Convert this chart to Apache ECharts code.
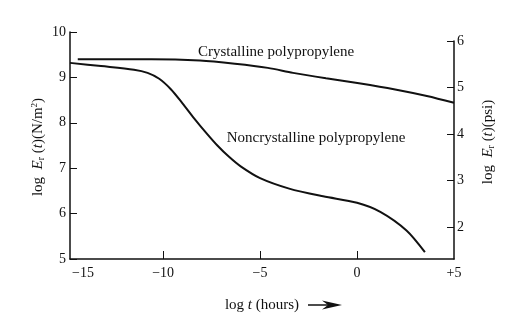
<!DOCTYPE html>
<html><head><meta charset="utf-8">
<script src="https://cdn.jsdelivr.net/npm/echarts@6/dist/echarts.min.js"></script>
<style>html,body{margin:0;padding:0;background:#fff}#c{width:526px;height:319px}</style>
</head><body><div id="c"></div>
<script>
// x: log t (hours); y: log Er(t) (N/m^2)
const crysX = [-14.4, -12.5, -10.6, -8.1, -6.3, -4.6, -3.3, -1.6, 0.1, 1.9, 3.6, 5.0];
const crysY = [9.40, 9.40, 9.40, 9.37, 9.30, 9.21, 9.10, 8.98, 8.87, 8.74, 8.59, 8.44];
const nonX = [-14.8, -13.2, -11.5, -10.8, -10.2, -9.6, -9.0, -8.4, -7.8, -7.2, -6.6, -6.0, -5.0, -3.5, -1.75, 0.0, 1.2, 2.55, 3.5];
const nonY = [9.32, 9.25, 9.17, 9.10, 8.97, 8.74, 8.43, 8.10, 7.79, 7.50, 7.25, 7.04, 6.78, 6.55, 6.38, 6.24, 6.04, 5.63, 5.15];
const xTickValues = [-14.8, -10, -5, 0, 5];
const xTickLabels = ['\u221215', '\u221210', '\u22125', '0', '+5'];
const leftTicks = [5, 6, 7, 8, 9, 10];
const rightTicks = [2, 3, 4, 5, 6];
const seriesNames = ['Crystalline polypropylene', 'Noncrystalline polypropylene'];

const F = 'Liberation Serif, Times New Roman, serif';
const C = '#111';
const chart = echarts.init(document.getElementById('c'), null, {renderer: 'canvas'});
const pair = (xs, ys) => xs.map((x, i) => [x, ys[i]]);
chart.setOption({
  animation: false,
  grid: [
    {left: 70, right: 72, top: 32, bottom: 60},
    {left: 70, right: 72, top: 41, bottom: 60}
  ],
  xAxis: [
    {type: 'value', gridIndex: 0, min: -14.8, max: 5,
     axisLine: {show: true, onZero: false, lineStyle: {color: C, width: 1.5}},
     splitLine: {show: false},
     axisTick: {show: true, inside: true, length: 8, lineStyle: {color: C}, customValues: [-10, -5, 0]},
     axisLabel: {customValues: xTickValues, color: C, fontFamily: F, fontSize: 14, margin: 7,
       formatter: v => {
         const i = xTickValues.findIndex(t => Math.abs(t - v) < 1e-6);
         const s = i >= 0 ? xTickLabels[i] : '';
         return i === 0 ? '{a|' + s + '}' : s;
       },
       rich: {a: {fontFamily: F, fontSize: 14, color: C, padding: [0, 0, 0, 26]}}}
    },
    {type: 'value', gridIndex: 1, min: -14.8, max: 5, show: false}
  ],
  yAxis: [
    {type: 'value', gridIndex: 0, min: 5, max: 10, interval: 1, position: 'left',
     axisLine: {show: true, onZero: false, lineStyle: {color: C, width: 1.5}},
     splitLine: {show: false},
     axisTick: {show: true, inside: true, length: 7, lineStyle: {color: C}, customValues: leftTicks},
     axisLabel: {customValues: leftTicks, color: C, fontFamily: F, fontSize: 14, margin: 4}
    },
    {type: 'value', gridIndex: 1, min: 1.32, max: 6, position: 'right',
     axisLine: {show: true, onZero: false, lineStyle: {color: C, width: 1.5}},
     splitLine: {show: false},
     axisTick: {show: true, inside: true, length: 7, lineStyle: {color: C}, customValues: rightTicks},
     axisLabel: {customValues: rightTicks, color: C, fontFamily: F, fontSize: 14, margin: 3}
    }
  ],
  series: [
    {name: seriesNames[0], type: 'line', xAxisIndex: 0, yAxisIndex: 0, data: pair(crysX, crysY),
     smooth: 0.3, showSymbol: false, lineStyle: {color: C, width: 2}},
    {name: seriesNames[1], type: 'line', xAxisIndex: 0, yAxisIndex: 0, data: pair(nonX, nonY),
     smooth: 0.3, showSymbol: false, lineStyle: {color: C, width: 2}}
  ],
  graphic: [
    {type: 'text', x: 276, y: 52, style: {text: seriesNames[0], font: '15px ' + F, fill: C, align: 'center', verticalAlign: 'middle'}},
    {type: 'text', x: 316, y: 138, style: {text: seriesNames[1], font: '15px ' + F, fill: C, align: 'center', verticalAlign: 'middle'}},
    {type: 'text', x: 38, y: 147, rotation: Math.PI / 2,
     style: {text: 'log  {i|E}{s|r} ({i|t})(N/m{p|2})', align: 'center', verticalAlign: 'middle', fill: C,
       font: '15px ' + F,
       rich: {i: {fontFamily: F, fontSize: 15, fontStyle: 'italic', fill: C},
              s: {fontFamily: F, fontSize: 10, fill: C, verticalAlign: 'bottom', padding: [6, 0, 0, 0]},
              p: {fontFamily: F, fontSize: 9, fill: C, verticalAlign: 'top', padding: [0, 0, 6, 0]}}}},
    {type: 'text', x: 488, y: 142, rotation: Math.PI / 2,
     style: {text: 'log  {i|E}{s|r} ({i|t})(psi)', align: 'center', verticalAlign: 'middle', fill: C,
       font: '15px ' + F,
       rich: {i: {fontFamily: F, fontSize: 15, fontStyle: 'italic', fill: C},
              s: {fontFamily: F, fontSize: 10, fill: C, verticalAlign: 'bottom', padding: [6, 0, 0, 0]}}}},
    {type: 'text', x: 262, y: 305,
     style: {text: 'log {i|t} (hours)', align: 'center', verticalAlign: 'middle', fill: C, font: '15px ' + F,
       rich: {i: {fontFamily: F, fontSize: 15, fontStyle: 'italic', fill: C}}}},
    {type: 'polygon', shape: {points: [[322, 300.5], [342, 305], [322, 309.5], [328, 305]]}, style: {fill: C}},
    {type: 'line', shape: {x1: 308, y1: 305, x2: 330, y2: 305}, style: {stroke: C, lineWidth: 1.5}}
  ]
});
</script></body></html>
